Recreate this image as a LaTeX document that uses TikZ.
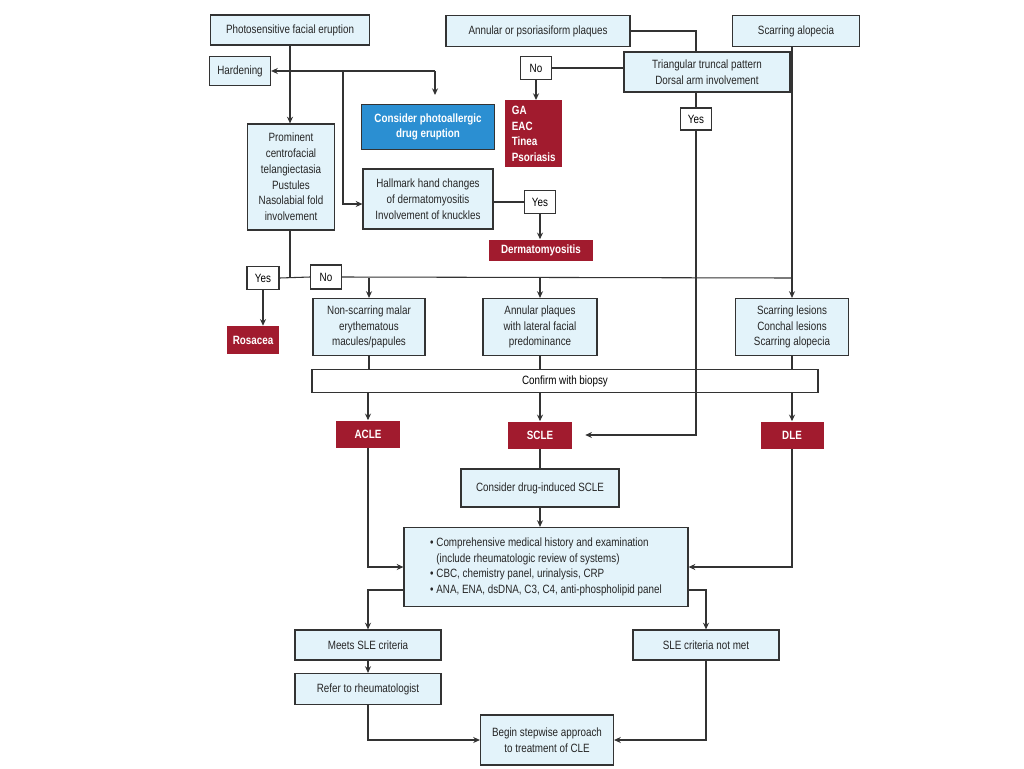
\documentclass[tikz,border=0pt]{standalone}
\usepackage{fontspec}
\setmainfont{Liberation Sans}[FakeStretch=0.82]
\usetikzlibrary{arrows.meta}
\definecolor{lb}{HTML}{E3F3FA}
\definecolor{rd}{HTML}{A11B2E}
\definecolor{bl}{HTML}{2B8FD2}
\definecolor{ln}{HTML}{333333}
\begin{document}
\begin{tikzpicture}[x=0.75pt,y=-0.75pt,
  every node/.style={font=\fontsize{9}{11.8}\selectfont},
  box/.style={draw=ln,line width=0.9pt,fill=lb,align=center,inner sep=1pt,text=black!85},
  wbox/.style={draw=ln,line width=0.8pt,fill=white,align=center,inner sep=1pt},
  red/.style={fill=rd,text=white,align=center,font=\fontsize{9}{11.8}\selectfont\bfseries,inner sep=1pt},
  c/.style={line width=0.8pt,draw=ln},
  arr/.style={c,-{Stealth[length=5pt,width=4.5pt]}}]
\useasboundingbox (0,0) rectangle (1024,768);
\node[box,minimum width=159*0.75pt,minimum height=30*0.75pt] (photo) at (290,30) {Photosensitive facial eruption};
\node[box,minimum width=184*0.75pt,minimum height=31*0.75pt] (ann) at (538,31) {Annular or psoriasiform plaques};
\node[box,minimum width=127*0.75pt,minimum height=31*0.75pt] (scalo) at (796,31) {Scarring alopecia};
\node[box,minimum width=166*0.75pt,minimum height=40*0.75pt] (tri) at (707,72) {Triangular truncal pattern\\Dorsal arm involvement};
\node[box,minimum width=61*0.75pt,minimum height=29*0.75pt] (hard) at (240,71) {Hardening};
\node[wbox,minimum width=31*0.75pt,minimum height=23*0.75pt] (no1) at (536,68) {No};
\node[draw=ln,line width=0.9pt,fill=bl,text=white,align=center,inner sep=1pt,font=\fontsize{9}{11.8}\selectfont\bfseries,minimum width=133*0.75pt,minimum height=45*0.75pt] (drug) at (428,127) {Consider photoallergic\\drug eruption};
\node[red,align=left,anchor=north west,minimum width=57*0.75pt,minimum height=67*0.75pt,inner sep=3pt] (ga) at (505,100) {GA\\EAC\\Tinea\\Psoriasis};
\node[wbox,minimum width=31*0.75pt,minimum height=22*0.75pt] (yes1) at (696,119) {Yes};
\node[box,minimum width=87*0.75pt,minimum height=106*0.75pt] (prom) at (291,177) {Prominent\\centrofacial\\telangiectasia\\Pustules\\Nasolabial fold\\involvement};
\node[box,minimum width=130*0.75pt,minimum height=60*0.75pt] (hall) at (428,199) {Hallmark hand changes\\of dermatomyositis\\Involvement of knuckles};
\node[wbox,minimum width=31*0.75pt,minimum height=23*0.75pt] (yes2) at (540,202) {Yes};
\node[red,minimum width=104*0.75pt,minimum height=21*0.75pt] (derm) at (541,250) {Dermatomyositis};
\node[wbox,minimum width=32*0.75pt,minimum height=23*0.75pt] (yes3) at (263,278) {Yes};
\node[wbox,minimum width=31*0.75pt,minimum height=24*0.75pt] (no2) at (326,277) {No};
\node[red,minimum width=52*0.75pt,minimum height=28*0.75pt] (ros) at (253,340) {Rosacea};
\node[box,minimum width=112*0.75pt,minimum height=57*0.75pt] (nons) at (369,327) {Non-scarring malar\\erythematous\\macules/papules};
\node[box,minimum width=114*0.75pt,minimum height=57*0.75pt] (annp) at (540,327) {Annular plaques\\with lateral facial\\predominance};
\node[box,minimum width=113*0.75pt,minimum height=57*0.75pt] (scl) at (792,327) {Scarring lesions\\Conchal lesions\\Scarring alopecia};
\node[wbox,minimum width=506*0.75pt,minimum height=23*0.75pt] (bio) at (565,381) {Confirm with biopsy};
\node[red,minimum width=64*0.75pt,minimum height=27*0.75pt] (acle) at (368,434) {ACLE};
\node[red,minimum width=64*0.75pt,minimum height=27*0.75pt] (scle) at (540,435) {SCLE};
\node[red,minimum width=63*0.75pt,minimum height=27*0.75pt] (dle) at (792,435) {DLE};
\node[box,minimum width=158*0.75pt,minimum height=38*0.75pt] (did) at (540,488) {Consider drug-induced SCLE};
\node[box,align=left,minimum width=284*0.75pt,minimum height=79*0.75pt,inner sep=3pt] (comp) at (546,567) {• Comprehensive medical history and examination\\\phantom{• }(include rheumatologic review of systems)\\• CBC, chemistry panel, urinalysis, CRP\\• ANA, ENA, dsDNA, C3, C4, anti-phospholipid panel};
\node[box,minimum width=146*0.75pt,minimum height=30*0.75pt] (meets) at (368,645) {Meets SLE criteria};
\node[box,minimum width=146*0.75pt,minimum height=30*0.75pt] (notmet) at (706,645) {SLE criteria not met};
\node[box,minimum width=146*0.75pt,minimum height=31*0.75pt] (refer) at (368,689) {Refer to rheumatologist};
\node[box,minimum width=133*0.75pt,minimum height=50*0.75pt] (begin) at (547,740) {Begin stepwise approach\\to treatment of CLE};
\coordinate (h1) at (435,71);
\coordinate (h2) at (343,71);
\draw[arr] (photo.south) -- (prom.north -| photo.south);
\draw[arr] (h1) -- (hard.east);
\draw[arr] (h1) -- (435,95);
\draw[arr] (h2) |- (hall.west |- 0,204);
\draw[c] (ann.east) -| (tri.north -| yes1);
\draw[c] (tri.west |- no1) -- (no1.east);
\draw[arr] (no1.south) -- (ga.north -| no1);
\draw[c] (tri.south -| yes1) -- (yes1.north);
\draw[arr] (yes1.south) |- ([xshift=13*0.75pt]scle.east);
\draw[arr] (scalo.south -| scl) -- (scl.north);
\draw[c] (hall.east |- yes2) -- (yes2.west);
\draw[arr] (yes2.south) -- (derm.north -| yes2);
\draw[c] (prom.south -| photo.south) -- (290,278);
\draw[c] (yes3.east) -- (no2.west);
\draw[arr] (yes3.south) -- (ros.north -| yes3);
\draw[c] (no2.east) -- (792,278);
\draw[arr] (369,278) -- (nons.north);
\draw[arr] (540,278) -- (annp.north);
\draw[c] (nons.south) -- (bio.north -| nons);
\draw[c] (annp.south) -- (bio.north -| annp);
\draw[c] (scl.south) -- (bio.north -| scl);
\draw[arr] (bio.south -| acle) -- (acle.north);
\draw[arr] (bio.south -| scle) -- (scle.north);
\draw[arr] (bio.south -| dle) -- (dle.north);
\draw[c] (scle.south) -- (did.north);
\draw[arr] (did.south) -- (comp.north -| did);
\draw[arr] (acle.south) |- (comp.west);
\draw[arr] (dle.south) |- (comp.east);
\draw[arr] (comp.west |- 0,590) -| (meets.north);
\draw[arr] (comp.east |- 0,590) -| (notmet.north);
\draw[arr] (meets.south) -- (refer.north);
\draw[arr] (refer.south) |- (begin.west);
\draw[arr] (notmet.south) |- (begin.east);
\end{tikzpicture}
\end{document}
